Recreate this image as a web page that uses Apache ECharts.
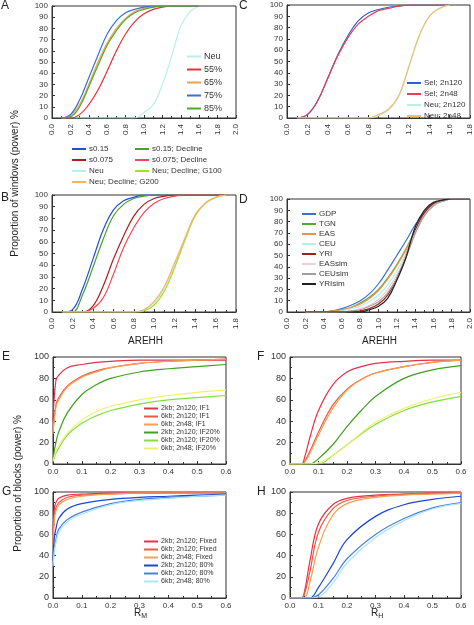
<!DOCTYPE html>
<html><head><meta charset="utf-8">
<script src="https://cdn.jsdelivr.net/npm/echarts@6/dist/echarts.min.js"></script>
<style>html,body{margin:0;padding:0;background:#fff}#c{width:474px;height:625px}</style>
</head><body><div id="c"></div>
<script>
// ---- data ----
const xA = [0.1,0.2,0.3,0.4,0.5,0.6,0.7,0.8,0.9,1.0,1.1,1.2,1.3,1.4,1.5,1.6];
const A_neu = [0,0,0,0,0,0,0,0,0,5,12,30,55,82,95,100];
const A_55 = [0,0,3,12,25,42,60,75,86,93,97,99,100,100,100,100];
const A_65 = [0,2,12,30,50,67,80,89,95,98,99,100,100,100,100,100];
const A_75 = [0,3,16,36,56,75,87,94,97,99,100,100,100,100,100,100];
const A_85 = [0,1,10,28,47,65,78,88,94,97,99,100,100,100,100,100];

const xB = [0.1,0.2,0.3,0.4,0.5,0.6,0.7,0.8,0.9,1.0,1.1,1.2,1.3,1.4,1.5,1.6,1.7];
const B_s15 = [0,2,20,45,70,87,95,98,100,100,100,100,100,100,100,100,100];
const B_s15d = [0,0,15,38,62,82,92,97,99,100,100,100,100,100,100,100,100];
const B_s075 = [0,0,0,5,22,45,65,82,92,97,99,100,100,100,100,100,100];
const B_s075d = [0,0,0,3,12,32,55,72,85,93,97,99,100,100,100,100,100];
const B_neu = [0,0,0,0,0,0,0,0,2,8,20,40,62,82,93,98,100];
const B_g100 = [0,0,0,0,0,0,0,0,1,6,18,38,61,82,93,98,100];
const B_g200 = [0,0,0,0,0,0,0,0,2,9,22,42,63,83,93,98,100];

const xC = [0.1,0.2,0.3,0.4,0.5,0.6,0.7,0.8,0.9,1.0,1.1,1.2,1.3,1.4,1.5,1.6];
const C_sel120 = [0,3,15,35,56,73,86,93,96,98,99,100,100,100,100,100];
const C_sel48 = [0,3,15,35,55,71,83,90,95,97,99,100,100,100,100,100];
const C_neu120 = [0,0,0,0,0,0,0,0,2,7,19,45,72,90,97,100];
const C_neu48 = [0,0,0,0,0,0,0,0,3,8,20,46,73,90,97,100];

const xD = [0.2,0.4,0.5,0.6,0.7,0.8,0.9,1.0,1.1,1.2,1.3,1.4,1.5,1.6,1.7,1.8,2.0];
const D_gdp = [0,0,1,3,6,10,16,25,37,50,63,77,88,95,98,100,100];
const D_tgn = [0,0,1,2,4,8,13,20,30,42,56,72,86,95,98,100,100];
const D_eas = [0,0,1,2,4,7,12,19,29,41,55,71,86,95,98,100,100];
const D_ceu = [0,0,0,1,3,5,9,15,24,36,52,70,85,94,98,100,100];
const D_yri = [0,0,0,0,0,1,3,7,15,30,50,72,88,96,99,100,100];
const D_eassim = [0,0,0,0,1,3,6,11,20,33,50,70,85,94,98,100,100];
const D_ceusim = [0,0,0,0,1,2,5,9,17,30,48,69,85,94,98,100,100];
const D_yrisim = [0,0,0,0,0,0,2,5,12,28,48,75,90,97,99,100,100];

const xE = [0,0.01,0.02,0.05,0.1,0.15,0.2,0.3,0.4,0.5,0.6];
const E_1 = [40,78,83,90,93,95,96,97,97,97,97];
const E_2 = [30,55,62,73,82,87,90,94,96,97,98];
const E_3 = [28,53,60,72,81,86,90,94,96,97,98];
const E_4 = [5,20,30,48,65,74,80,86,89,91,93];
const E_5 = [2,10,15,27,38,45,50,56,60,62,64];
const E_6 = [3,12,17,29,41,49,54,60,64,67,69];

const xF = [0,0.04,0.05,0.07,0.1,0.15,0.2,0.25,0.3,0.4,0.5,0.6];
const F_1 = [0,0,5,25,50,74,86,91,94,96,97,97];
const F_2 = [0,0,2,12,30,55,70,79,85,91,95,97];
const F_3 = [0,0,1,10,27,52,69,79,85,91,95,97];
const F_4 = [0,0,0,0,5,18,35,50,63,80,88,92];
const F_5 = [0,0,0,0,0,8,18,28,37,50,58,63];
const F_6 = [0,0,0,0,1,8,18,29,39,52,61,67];

const xG = [0,0.005,0.01,0.02,0.05,0.1,0.2,0.3,0.4,0.5,0.6];
const G_1 = [60,85,90,94,97,98,99,99,99,99,99];
const G_2 = [50,78,85,90,95,97,98,99,99,99,99];
const G_3 = [50,75,82,88,93,96,98,99,99,99,99];
const G_4 = [35,58,65,75,84,89,93,95,96,97,98];
const G_5 = [30,48,55,65,74,81,89,93,95,96,97];
const G_6 = [30,45,52,62,72,79,88,92,94,96,97];

const xH = [0,0.04,0.05,0.07,0.1,0.15,0.2,0.3,0.4,0.5,0.6];
const H_1 = [0,0,5,35,70,88,94,97,98,99,99];
const H_2 = [0,0,3,25,62,84,92,96,98,99,99];
const H_3 = [0,0,0,15,48,78,89,95,97,98,99];
const H_4 = [0,0,0,0,10,32,55,77,88,93,96];
const H_5 = [0,0,0,0,3,18,37,60,75,85,90];
const H_6 = [0,0,0,0,1,14,33,57,73,84,89];

// ---- build ----
const F = 'Liberation Sans, Arial, sans-serif';
const grids = [
  {left:52,top:6,width:184,height:112},
  {left:52,top:195,width:184,height:117},
  {left:287,top:5,width:184,height:113},
  {left:287,top:199,width:184,height:113},
  {left:53,top:357,width:173,height:107},
  {left:290,top:357,width:171,height:107},
  {left:53,top:492,width:173,height:106},
  {left:290,top:492,width:171,height:106}
];
const xmax = [2.0,1.8,1.8,2.0,0.6,0.6,0.6,0.6];
const xAxis = grids.map((g,i)=>({
  type:'value', gridIndex:i, min:0, max:xmax[i], interval: i<4?0.2:0.1,
  axisLine:{show:true,lineStyle:{color:'#333'}}, splitLine:{show:false},
  axisTick:{show:true,inside:true,length:3,lineStyle:{color:'#333'}},
  minorTick:{show:true,splitNumber:2,length:2,lineStyle:{color:'#333'}},
  axisLabel:{fontSize:8,color:'#333',fontFamily:F,rotate:i<4?90:0,margin:i<4?6:4,
    formatter:v=>v.toFixed(1)}
}));
const yAxis = grids.map((g,i)=>({
  type:'value', gridIndex:i, min:0, max:100, interval: i<4?10:20,
  axisLine:{show:true,lineStyle:{color:'#333'}}, splitLine:{show:false},
  axisTick:{show:true,inside:true,length:3,lineStyle:{color:'#333'}},
  minorTick:{show:i>=4,splitNumber:2,length:2,lineStyle:{color:'#333'}},
  axisLabel:{fontSize:i<4?8:9,color:'#333',fontFamily:F,margin:4}
}));
grids.forEach(g=>{g.show=true;g.borderColor='#333';g.borderWidth=1;g.backgroundColor='transparent';});

const series=[];
function add(name,g,xs,ys,color,w){
  series.push({type:'line',name,xAxisIndex:g,yAxisIndex:g,data:xs.map((x,k)=>[x,ys[k]]),
    smooth:0.4,showSymbol:false,symbol:'none',lineStyle:{color,width:w||1.2},itemStyle:{color},
    emphasis:{disabled:true}});
}
add('Neu',0,xA,A_neu,'#b9f0e6');
add('55%',0,xA,A_55,'#e8303a');
add('65%',0,xA,A_65,'#f5a050');
add('75%',0,xA,A_75,'#3a6fd8');
add('85%',0,xA,A_85,'#4fa82a');
add('s0.15',1,xB,B_s15,'#2050d0');
add('s0.15; Decline',1,xB,B_s15d,'#4aa030');
add('s0.075',1,xB,B_s075,'#a82020');
add('s0.075; Decline',1,xB,B_s075d,'#f04858');
add('Neu ',1,xB,B_neu,'#b9f0e6');
add('Neu; Decline; G100',1,xB,B_g100,'#a8e020');
add('Neu; Decline; G200',1,xB,B_g200,'#f8b070');
add('Sel; 2n120',2,xC,C_sel120,'#3060d0');
add('Sel; 2n48',2,xC,C_sel48,'#e84050');
add('Neu; 2n120',2,xC,C_neu120,'#b9f0e6');
add('Neu; 2n48',2,xC,C_neu48,'#f0c070');
add('GDP',3,xD,D_gdp,'#3a6fd8');
add('TGN',3,xD,D_tgn,'#5aa830');
add('EAS',3,xD,D_eas,'#f09050');
add('CEU',3,xD,D_ceu,'#b9f0e6');
add('YRI',3,xD,D_yri,'#a02020');
add('EASsim',3,xD,D_eassim,'#f0d0d8');
add('CEUsim',3,xD,D_ceusim,'#a0a0a0');
add('YRIsim',3,xD,D_yrisim,'#202020');
const eN=['2kb; 2n120; IF1','6kb; 2n120; IF1','6kb; 2n48; IF1','2kb; 2n120; IF20%','6kb; 2n120; IF20%','6kb; 2n48; IF20%'];
const eC=['#e8304a','#f05840','#f5a050','#40a020','#80e040','#f0f070'];
[E_1,E_2,E_3,E_4,E_5,E_6].forEach((d,k)=>add(eN[k],4,xE,d,eC[k]));
[F_1,F_2,F_3,F_4,F_5,F_6].forEach((d,k)=>add(eN[k]+' ',5,xF,d,eC[k]));
const gN=['2kb; 2n120; Fixed','6kb; 2n120; Fixed','6kb; 2n48; Fixed','2kb; 2n120; 80%','6kb; 2n120; 80%','6kb; 2n48; 80%'];
const gC=['#e8304a','#f05840','#f5a050','#1a48d0','#4a80e0','#a8e8f0'];
[G_1,G_2,G_3,G_4,G_5,G_6].forEach((d,k)=>add(gN[k],6,xG,d,gC[k]));
[H_1,H_2,H_3,H_4,H_5,H_6].forEach((d,k)=>add(gN[k]+' ',7,xH,d,gC[k]));

const lg=(data,left,top,gap,fs)=>({data,left,top,orient:'vertical',itemGap:gap||3,itemWidth:14,itemHeight:2,
  icon:'rect',textStyle:{fontSize:fs||8,color:'#333',fontFamily:F,padding:[0,0,0,-2]},selectedMode:false,padding:0});
const legend=[
  lg(['Neu','55%','65%','75%','85%'],187,52,4,9),
  lg(['s0.15','s0.075','Neu ','Neu; Decline; G200'],72,145,3,8),
  lg(['s0.15; Decline','s0.075; Decline','Neu; Decline; G100'],135,145,3,8),
  lg(['Sel; 2n120','Sel; 2n48','Neu; 2n120','Neu; 2n48'],407,79,3,8),
  lg(['GDP','TGN','EAS','CEU','YRI','EASsim','CEUsim','YRIsim'],302,210,2,8),
  lg(eN,144,405,1,7),
  lg(gN,144,538,1,7)
];
const T=(t,x,y,fs)=>({type:'text',left:x,top:y,style:{text:t,fontSize:fs||12,fill:'#222',fontFamily:F}});
const graphic=[
  T('A',1,0),T('B',1,192),T('C',239,0),T('D',239,194),
  T('E',2,351),T('F',257,351),T('G',2,486),T('H',257,486),
  T('AREHH',128,336,10),T('AREHH',362,336,10),
  {type:'text',left:10,top:110,rotation:Math.PI/2,style:{text:'Proportion of windows (power) %',fontSize:10,fill:'#222',fontFamily:F}},
  {type:'text',left:13,top:415,rotation:Math.PI/2,style:{text:'Proportion of blocks (power) %',fontSize:10,fill:'#222',fontFamily:F}},
  {type:'text',left:134,top:608,style:{rich:{a:{fontSize:10,fill:'#222',fontFamily:F},b:{fontSize:7,fill:'#222',fontFamily:F,verticalAlign:'bottom',padding:[6,0,0,0]}},text:'{a|R}{b|M}'}},
  {type:'text',left:371,top:608,style:{rich:{a:{fontSize:10,fill:'#222',fontFamily:F},b:{fontSize:7,fill:'#222',fontFamily:F,verticalAlign:'bottom',padding:[6,0,0,0]}},text:'{a|R}{b|H}'}}
];
graphic[10].left=10; graphic[10].top=110;
const chart=echarts.init(document.getElementById('c'),null,{renderer:'canvas'});
chart.setOption({animation:false,grid:grids,xAxis,yAxis,series,legend,graphic});
</script></body></html>
